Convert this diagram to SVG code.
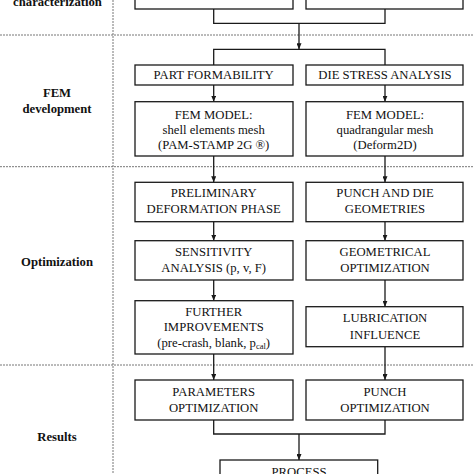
<svg xmlns="http://www.w3.org/2000/svg" width="474" height="474" viewBox="0 0 474 474">
<style>
.box{fill:#fff;stroke:#1a1a1a;stroke-width:1.3}
.t{font-family:"Liberation Serif","Times New Roman",serif;font-size:12.7px;fill:#111;text-anchor:middle}
.lab{font-family:"Liberation Serif","Times New Roman",serif;font-size:12.7px;font-weight:bold;fill:#111;text-anchor:middle}
.sep{stroke:#777;stroke-width:1;stroke-dasharray:2,1;fill:none}
.c{stroke:#1a1a1a;stroke-width:1.3;fill:none}
</style>
<defs>
<marker id="ah" markerUnits="userSpaceOnUse" markerWidth="6" markerHeight="5" refX="6" refY="2.5" orient="auto">
<path d="M0,0 L6,2.5 L0,5 z" fill="#1a1a1a"/>
</marker>
</defs>
<rect width="474" height="474" fill="#fff"/>
<g id="separators">
<line class="sep" x1="113" y1="0" x2="113" y2="474"/>
<line class="sep" x1="0" y1="35" x2="474" y2="35"/>
<line class="sep" x1="0" y1="166.7" x2="474" y2="166.7"/>
<line class="sep" x1="0" y1="365" x2="474" y2="365"/>
</g>
<g id="labels">
<text class="lab" x="57.5" y="5.7">characterization</text>
<text class="lab" x="57" y="97.3">FEM</text>
<text class="lab" x="57" y="112.7">development</text>
<text class="lab" x="57" y="266">Optimization</text>
<text class="lab" x="57" y="440.7">Results</text>
</g>
<g id="connectors">
<polyline class="c" points="213.7,9 213.7,23.3 385,23.3 385,9"/>
<line class="c" x1="299" y1="23.3" x2="299" y2="49.3" marker-end="url(#ah)"/>
<polyline class="c" points="213.7,65 213.7,49.3 385,49.3 385,65"/>
<line class="c" x1="213.7" y1="85" x2="213.7" y2="101.7" marker-end="url(#ah)"/>
<line class="c" x1="385" y1="85" x2="385" y2="101.7" marker-end="url(#ah)"/>
<line class="c" x1="213.7" y1="156" x2="213.7" y2="182.3" marker-end="url(#ah)"/>
<line class="c" x1="385" y1="156" x2="385" y2="182.3" marker-end="url(#ah)"/>
<line class="c" x1="213.7" y1="221.7" x2="213.7" y2="240.7" marker-end="url(#ah)"/>
<line class="c" x1="385" y1="221.7" x2="385" y2="240.7" marker-end="url(#ah)"/>
<line class="c" x1="213.7" y1="280" x2="213.7" y2="300.7" marker-end="url(#ah)"/>
<line class="c" x1="385" y1="280" x2="385" y2="306.7" marker-end="url(#ah)"/>
<line class="c" x1="213.7" y1="354" x2="213.7" y2="380" marker-end="url(#ah)"/>
<line class="c" x1="385" y1="346.7" x2="385" y2="380" marker-end="url(#ah)"/>
<polyline class="c" points="213.7,420 213.7,434 385,434 385,420"/>
<line class="c" x1="299" y1="434" x2="299" y2="460" marker-end="url(#ah)"/>
</g>
<g id="top-left"><rect class="box" x="135" y="-30" width="158" height="39"/></g>
<g id="top-right"><rect class="box" x="306" y="-30" width="157" height="39"/></g>
<g id="part-formability">
<rect class="box" x="135" y="65" width="158" height="20"/>
<text class="t" x="213.7" y="79.2">PART FORMABILITY</text>
</g>
<g id="die-stress">
<rect class="box" x="306" y="65" width="157" height="20"/>
<text class="t" x="385" y="79.2">DIE STRESS ANALYSIS</text>
</g>
<g id="fem-left">
<rect class="box" x="135" y="101.7" width="158" height="54.3"/>
<text class="t" x="213.7" y="119">FEM MODEL:</text>
<text class="t" x="213.7" y="134">shell elements mesh</text>
<text class="t" x="213.7" y="149">(PAM-STAMP 2G ®)</text>
</g>
<g id="fem-right">
<rect class="box" x="306" y="101.7" width="157" height="54.3"/>
<text class="t" x="385" y="119">FEM MODEL:</text>
<text class="t" x="385" y="134">quadrangular mesh</text>
<text class="t" x="385" y="149">(Deform2D)</text>
</g>
<g id="preliminary">
<rect class="box" x="135" y="182.3" width="158" height="39.4"/>
<text class="t" x="213.7" y="197.3">PRELIMINARY</text>
<text class="t" x="213.7" y="213.3">DEFORMATION PHASE</text>
</g>
<g id="punch-die">
<rect class="box" x="306" y="182.3" width="157" height="39.4"/>
<text class="t" x="385" y="197.3">PUNCH AND DIE</text>
<text class="t" x="385" y="213.3">GEOMETRIES</text>
</g>
<g id="sensitivity">
<rect class="box" x="135" y="240.7" width="158" height="39.3"/>
<text class="t" x="213.7" y="256">SENSITIVITY</text>
<text class="t" x="213.7" y="272">ANALYSIS (p, v, F)</text>
</g>
<g id="geometrical">
<rect class="box" x="306" y="240.7" width="157" height="39.3"/>
<text class="t" x="385" y="256">GEOMETRICAL</text>
<text class="t" x="385" y="272">OPTIMIZATION</text>
</g>
<g id="further">
<rect class="box" x="135" y="300.7" width="158" height="53.3"/>
<text class="t" x="213.7" y="316">FURTHER</text>
<text class="t" x="213.7" y="331.3">IMPROVEMENTS</text>
<text class="t" x="213.7" y="347.3">(pre-crash, blank, p<tspan font-size="8.5" dy="2">cal</tspan><tspan dy="-2">)</tspan></text>
</g>
<g id="lubrication">
<rect class="box" x="306" y="306.7" width="157" height="40"/>
<text class="t" x="385" y="322.3">LUBRICATION</text>
<text class="t" x="385" y="339">INFLUENCE</text>
</g>
<g id="parameters">
<rect class="box" x="135" y="380" width="158" height="40"/>
<text class="t" x="213.7" y="396">PARAMETERS</text>
<text class="t" x="213.7" y="411.7">OPTIMIZATION</text>
</g>
<g id="punch-opt">
<rect class="box" x="306" y="380" width="157" height="40"/>
<text class="t" x="385" y="396">PUNCH</text>
<text class="t" x="385" y="411.7">OPTIMIZATION</text>
</g>
<g id="process">
<rect class="box" x="220" y="460" width="157.7" height="40"/>
<text class="t" x="299" y="476">PROCESS</text>
</g>
</svg>
